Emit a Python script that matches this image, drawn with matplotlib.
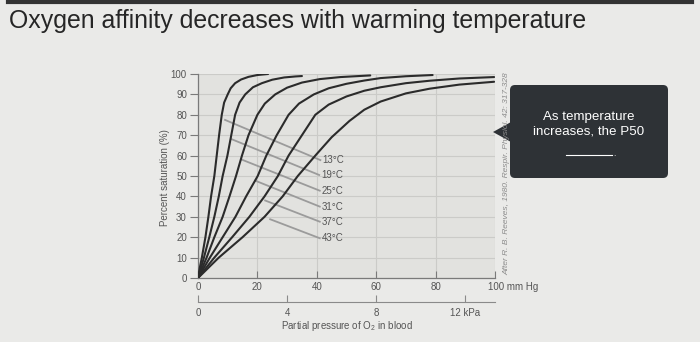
import numpy as np
import matplotlib.pyplot as plt
from matplotlib.patches import FancyBboxPatch, Polygon
from matplotlib.transforms import ScaledTranslation

plt.rcParams['font.family'] = ['Liberation Sans', 'DejaVu Sans']
plt.rcParams['mathtext.default'] = 'regular'

# Dissociation curves: partial pressure (mm Hg) and percent saturation
temps = ['13°C', '19°C', '25°C', '31°C', '37°C', '43°C']
po2 = [
    [0, 0.6, 1.3, 2.5, 3.5, 4.4, 5.5, 6.3, 7.1, 8.0, 8.8, 10.0, 11.0, 12.5, 14.5, 17.0, 20.0, 23.6],
    [0, 2.0, 3.8, 5.5, 7.0, 8.3, 9.9, 11.2, 12.5, 14.0, 15.9, 18.5, 21.5, 25.0, 29.0, 32.8, 35.0],
    [0, 2.9, 5.5, 8.3, 10.6, 12.8, 14.8, 17.0, 20.0, 22.5, 26.0, 30.0, 35.0, 41.0, 48.0, 58.0],
    [0, 4.0, 8.3, 12.6, 16.2, 20.1, 23.0, 26.5, 30.5, 34.0, 39.0, 44.0, 50.0, 56.0, 61.5, 70.0, 79.0],
    [0, 5.5, 11.5, 17.3, 22.4, 26.9, 30.5, 35.0, 39.5, 44.0, 50.0, 56.0, 61.5, 70.0, 78.0, 88.0, 99.7],
    [0, 7.0, 15.0, 22.4, 28.5, 33.6, 39.5, 45.0, 51.0, 56.0, 61.5, 70.0, 78.0, 88.0, 99.7],
]
sat = [
    [0, 5, 10, 20, 30, 40, 50, 60, 70, 80, 86, 90, 93, 95.5, 97.3, 98.6, 99.5, 100],
    [0, 10, 20, 30, 40, 50, 60, 70, 80, 86, 90, 93.5, 95.5, 97.2, 98.3, 98.8, 99],
    [0, 10, 20, 30, 40, 50, 60, 70, 80, 85.5, 90, 93.3, 95.8, 97.5, 98.5, 99.3],
    [0, 10, 20, 30, 40, 50, 60, 70, 80, 85.5, 90, 93, 95.2, 96.8, 98, 98.9, 99.5],
    [0, 10, 20, 30, 40, 50, 60, 70, 80, 85, 89, 91.8, 93.5, 95.5, 96.7, 97.8, 98.5],
    [0, 10, 20, 30, 40, 50, 60, 69, 77, 82.5, 86.5, 90.5, 92.8, 94.8, 96.2],
]
# leader lines: point on each curve -> label position
lead_from_x = [9.1, 11.4, 14.8, 19.3, 22.6, 24.3]
lead_from_y = [77.5, 68, 58, 47.7, 38, 28.8]
lead_to_x = [41.2, 40.8, 41.0, 41.0, 41.0, 41.0]
lead_to_y = [57.8, 50.5, 42.8, 35.0, 27.6, 19.5]

mm_ticks = [0, 20, 40, 60, 80, 100]
mm_labels = ['0', '20', '40', '60', '80', '100 mm Hg']
kpa_ticks = [0, 4, 8, 12]
kpa_labels = ['0', '4', '8', '12 kPa']
sat_ticks = list(range(0, 101, 10))

W, H = 700, 342
fig = plt.figure(figsize=(W / 100, H / 100), dpi=100)
fig.patch.set_facecolor('#eaeae8')

ax = fig.add_axes([198 / W, (H - 278) / H, 297 / W, 204 / H])
ax.set_facecolor('#e2e2df')
ax.set_xlim(0, 100)
ax.set_ylim(0, 100)
ax.grid(True, color='#cbcbc8', lw=0.8)
ax.set_axisbelow(True)
for s in ['top', 'right']:
    ax.spines[s].set_visible(False)
for s in ['left', 'bottom']:
    ax.spines[s].set_color('#7a7a7a')
    ax.spines[s].set_linewidth(0.9)

ax.set_xticks(mm_ticks)
ax.set_xticklabels(mm_labels)
ax.set_yticks(sat_ticks)
ax.tick_params(axis='x', direction='in', length=5, pad=3, colors='#7a7a7a',
               labelcolor='#555555', labelsize=7)
ax.tick_params(axis='y', direction='out', length=6, pad=2, colors='#7a7a7a',
               labelcolor='#555555', labelsize=7)
last = ax.get_xticklabels()[-1]
last.set_horizontalalignment('left')
last.set_transform(last.get_transform() + ScaledTranslation(-7 / 100, 0, fig.dpi_scale_trans))
ax.set_ylabel('Percent saturation (%)', fontsize=7, color='#555555')
ax.yaxis.set_label_coords(-0.094, 0.49)

for x, y in zip(po2, sat):
    ax.plot(x, y, color='#2b2b2b', lw=1.5, solid_joinstyle='round',
            solid_capstyle='round', zorder=4)

for x0, y0, x1, y1, t in zip(lead_from_x, lead_from_y, lead_to_x, lead_to_y, temps):
    ax.plot([x0, x1], [y0, y1], color='#9b9b9b', lw=1.3, zorder=3)
    ax.text(x1 + 0.6, y1, t, fontsize=7, color='#555555', va='center', ha='left')

# kPa scale beneath the mm Hg axis
sec = ax.secondary_xaxis(-24 / 204, functions=(lambda v: v / 7.5, lambda v: v * 7.5))
sec.set_xticks(kpa_ticks)
sec.set_xticklabels(kpa_labels)
sec.spines['bottom'].set_color('#8a8a8a')
sec.tick_params(direction='in', length=5, pad=4, colors='#8a8a8a',
                labelcolor='#555555', labelsize=7)
sec.set_xlabel('Partial pressure of O$_2$ in blood', fontsize=7, color='#555555', labelpad=1)

# overlay in pixel coordinates for title and callout
ov = fig.add_axes([0, 0, 1, 1], zorder=10)
ov.set_xlim(0, W)
ov.set_ylim(H, 0)
ov.axis('off')
ov.plot([8, 692], [2, 2], color='#333333', lw=3)
ov.text(9, 21, 'Oxygen affinity decreases with warming temperature', fontsize=17.9,
        color='#262626', va='center', ha='left')
ov.text(507, 174, 'After R. B. Reeves, 1980. Respir. Physiol. 42: 317-328', rotation=90,
        fontsize=6.0, color='#8c8c8c', style='italic', ha='center', va='center')

box = FancyBboxPatch((510, 85), 158, 93, boxstyle='round,pad=0,rounding_size=5',
                     fc='#2e3236', ec='none')
ov.add_patch(box)
ov.add_patch(Polygon([[493, 132], [511, 122], [511, 142]], closed=True, fc='#2e3236', ec='none'))
ov.text(589, 117, 'As temperature', color='white', fontsize=9.6, ha='center', va='center')
ov.text(589, 132, 'increases, the P50', color='white', fontsize=9.6, ha='center', va='center')
ov.plot([566, 612], [155, 155], color='white', lw=0.8)
ov.text(613, 154, '.', color='white', fontsize=6, ha='left', va='center')

fig.savefig('out.png', dpi=100, facecolor=fig.get_facecolor())
